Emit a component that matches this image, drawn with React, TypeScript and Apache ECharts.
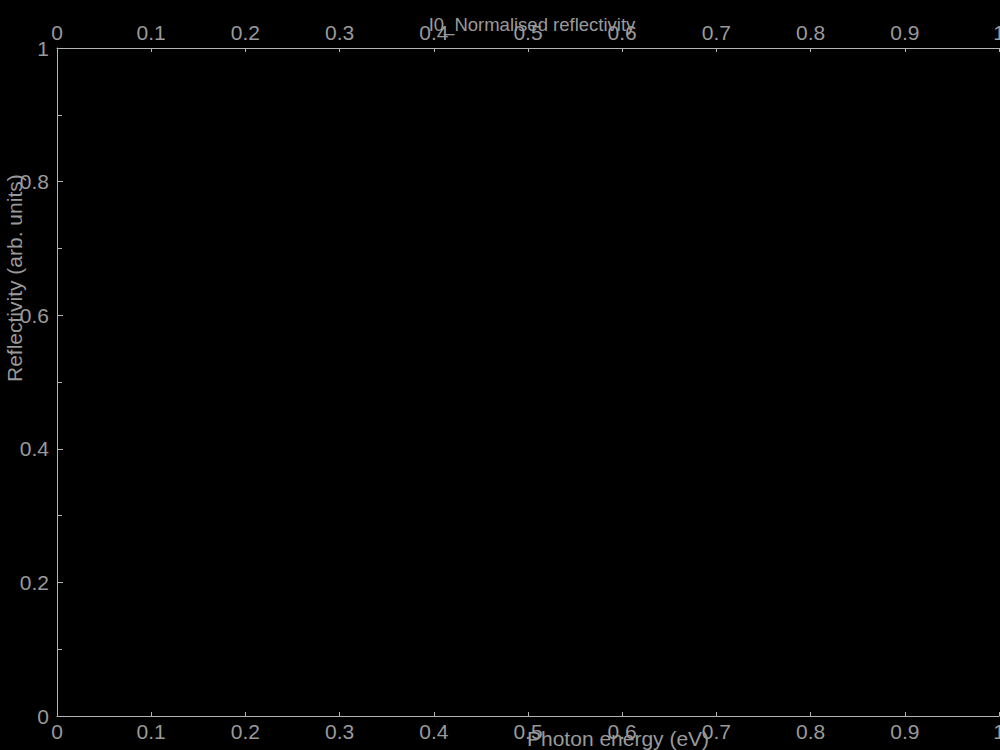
import { useEffect, useRef } from 'react';
import * as echarts from 'echarts';

const xTicks = [0, 0.1, 0.2, 0.3, 0.4, 0.5, 0.6, 0.7, 0.8, 0.9, 1];
const yTicks = [0, 0.2, 0.4, 0.6, 0.8, 1];
const reflectivity: [number, number][] = [];

const textColor = '#9a9a9a';
const lineColor = '#b4b4b4';
const fontFamily = '"Liberation Sans", Arial, sans-serif';

const App: React.FC = () => {
  const divRef = useRef<HTMLDivElement | null>(null);

  useEffect(() => {
    if (!divRef.current) return;
    const chart = echarts.init(divRef.current, undefined, { renderer: 'svg' });

    const xAxisBase = {
      type: 'value' as const,
      min: xTicks[0],
      max: xTicks[xTicks.length - 1],
      interval: 0.1,
      axisLine: { show: true, lineStyle: { color: lineColor, width: 1 } },
      axisTick: { show: true, inside: true, length: 4, lineStyle: { color: lineColor } },
      axisLabel: { color: textColor, fontSize: 21, fontFamily, margin: 5, showMaxLabel: true },
      splitLine: { show: false },
    };

    chart.setOption({
      animation: false,
      backgroundColor: '#000',
      title: {
        text: 'I0_Normalised reflectivity',
        left: 527,
        top: 10,
        textAlign: 'center',
        textStyle: { color: textColor, fontSize: 18.5, fontWeight: 'normal', fontFamily },
      },
      grid: { left: 57, right: 1, top: 48, bottom: 34, containLabel: false, outerBoundsMode: 'none' },
      xAxis: [
        { ...xAxisBase, position: 'bottom' },
        { ...xAxisBase, position: 'top' },
      ],
      yAxis: {
        type: 'value',
        min: yTicks[0],
        max: yTicks[yTicks.length - 1],
        interval: 0.2,
        axisLine: { show: true, lineStyle: { color: lineColor, width: 1 } },
        axisTick: { show: true, inside: true, length: 6, lineStyle: { color: lineColor } },
        minorTick: { show: true, splitNumber: 2, length: 5, lineStyle: { color: lineColor } },
        axisLabel: { color: textColor, fontSize: 21, fontFamily, margin: 8 },
        splitLine: { show: false },
      },
      graphic: [
        {
          type: 'text',
          x: 527,
          y: 738,
          style: {
            text: 'Photon energy (eV)',
            fill: textColor,
            font: `21px ${fontFamily}`,
            textAlign: 'left',
            textVerticalAlign: 'middle',
          },
        },
        {
          type: 'text',
          x: 14,
          y: 382,
          rotation: Math.PI / 2,
          style: {
            text: 'Reflectivity (arb. units)',
            fill: textColor,
            font: `21px ${fontFamily}`,
            textAlign: 'left',
            textVerticalAlign: 'middle',
          },
        },
      ],
      series: [
        {
          type: 'line',
          data: reflectivity,
          showSymbol: false,
          xAxisIndex: 0,
        },
      ],
    });

    return () => chart.dispose();
  }, []);

  return (
    <div
      ref={divRef}
      style={{ position: 'fixed', left: 0, top: 0, width: 1000, height: 750 }}
    />
  );
};

export default App;
